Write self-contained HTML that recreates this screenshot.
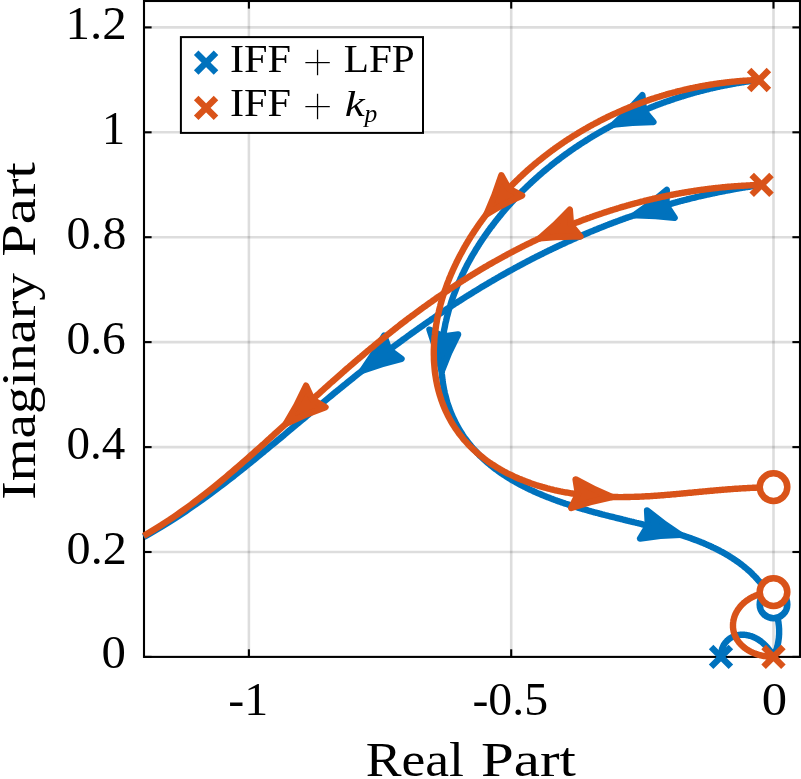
<!DOCTYPE html><html><head><meta charset="utf-8"><title>Root Locus</title><style>html,body{margin:0;padding:0;background:#fff}</style></head><body><svg width="801" height="779" viewBox="0 0 801 779" style="display:block" font-family="'Liberation Serif', serif" fill="#000">
<rect width="801" height="779" fill="#fff"/>
<defs><clipPath id="ax"><rect x="140.0" y="1.0" width="660.0" height="659.9"/></clipPath></defs>
<g stroke="#000" stroke-opacity="0.135" stroke-width="2.6"><line x1="248.9" y1="1.0" x2="248.9" y2="656.9"/><line x1="511.2" y1="1.0" x2="511.2" y2="656.9"/><line x1="773.5" y1="1.0" x2="773.5" y2="656.9"/><line x1="144.0" y1="552.0" x2="800.0" y2="552.0"/><line x1="144.0" y1="447.1" x2="800.0" y2="447.1"/><line x1="144.0" y1="342.1" x2="800.0" y2="342.1"/><line x1="144.0" y1="237.2" x2="800.0" y2="237.2"/><line x1="144.0" y1="132.3" x2="800.0" y2="132.3"/><line x1="144.0" y1="27.4" x2="800.0" y2="27.4"/></g>
<g stroke="#000" stroke-width="2.1"><line x1="248.9" y1="656.9" x2="248.9" y2="649.3"/><line x1="248.9" y1="1.0" x2="248.9" y2="8.6"/><line x1="511.2" y1="656.9" x2="511.2" y2="649.3"/><line x1="511.2" y1="1.0" x2="511.2" y2="8.6"/><line x1="773.5" y1="656.9" x2="773.5" y2="649.3"/><line x1="773.5" y1="1.0" x2="773.5" y2="8.6"/><line x1="144.0" y1="656.9" x2="151.6" y2="656.9"/><line x1="800.0" y1="656.9" x2="792.4" y2="656.9"/><line x1="144.0" y1="552.0" x2="151.6" y2="552.0"/><line x1="800.0" y1="552.0" x2="792.4" y2="552.0"/><line x1="144.0" y1="447.1" x2="151.6" y2="447.1"/><line x1="800.0" y1="447.1" x2="792.4" y2="447.1"/><line x1="144.0" y1="342.1" x2="151.6" y2="342.1"/><line x1="800.0" y1="342.1" x2="792.4" y2="342.1"/><line x1="144.0" y1="237.2" x2="151.6" y2="237.2"/><line x1="800.0" y1="237.2" x2="792.4" y2="237.2"/><line x1="144.0" y1="132.3" x2="151.6" y2="132.3"/><line x1="800.0" y1="132.3" x2="792.4" y2="132.3"/><line x1="144.0" y1="27.4" x2="151.6" y2="27.4"/><line x1="800.0" y1="27.4" x2="792.4" y2="27.4"/></g>
<rect x="144.0" y="1.0" width="656.0" height="655.9" fill="none" stroke="#000" stroke-width="2.1"/>
<g clip-path="url(#ax)"><path d="M759.0 80.0 L758.3 80.1 L757.6 80.2 L756.9 80.3 L756.2 80.3 L755.5 80.4 L754.8 80.5 L754.1 80.6 L753.4 80.7 L752.7 80.8 L752.0 80.9 L751.3 81.0 L750.6 81.1 L749.9 81.2 L749.2 81.3 L748.5 81.4 L747.7 81.5 L747.0 81.6 L746.3 81.7 L745.5 81.8 L744.8 81.9 L744.1 82.0 L743.4 82.1 L742.7 82.3 L741.9 82.4 L741.2 82.5 L740.5 82.6 L739.7 82.7 L739.0 82.9 L738.3 83.0 L737.6 83.1 L736.9 83.2 L736.1 83.3 L735.4 83.5 L734.7 83.6 L733.9 83.7 L733.2 83.9 L732.4 84.0 L731.7 84.1 L731.0 84.3 L730.2 84.4 L729.5 84.6 L728.7 84.7 L728.0 84.8 L727.3 85.0 L726.5 85.1 L725.8 85.3 L725.0 85.4 L724.2 85.6 L723.5 85.7 L722.8 85.9 L722.1 86.0 L721.3 86.2 L720.6 86.3 L719.8 86.5 L719.1 86.7 L718.3 86.8 L717.4 87.0 L716.8 87.2 L716.1 87.3 L715.4 87.5 L714.6 87.6 L713.9 87.8 L713.2 88.0 L712.4 88.2 L711.6 88.3 L710.8 88.5 L710.0 88.7 L709.2 88.9 L708.4 89.1 L707.6 89.3 L706.7 89.5 L706.0 89.7 L705.3 89.9 L704.6 90.0 L703.9 90.2 L703.2 90.4 L702.5 90.6 L701.7 90.8 L701.0 91.0 L700.2 91.2 L699.4 91.4 L698.6 91.6 L697.8 91.8 L697.0 92.0 L696.2 92.2 L695.4 92.5 L694.5 92.7 L693.7 92.9 L692.8 93.2 L692.0 93.4 L691.1 93.7 L690.2 93.9 L689.5 94.1 L688.8 94.3 L688.1 94.5 L687.4 94.7 L686.7 95.0 L686.0 95.2 L685.3 95.4 L684.6 95.6 L683.8 95.8 L683.1 96.1 L682.4 96.3 L681.6 96.5 L680.8 96.8 L680.1 97.0 L679.3 97.3 L678.5 97.5 L677.7 97.8 L676.9 98.0 L676.1 98.3 L675.3 98.5 L674.5 98.8 L673.7 99.1 L672.8 99.4 L672.0 99.7 L671.1 100.0 L670.3 100.3 L669.4 100.6 L668.5 100.9 L667.6 101.2 L666.7 101.5 L665.8 101.8 L664.9 102.1 L664.0 102.5 L663.0 102.8 L662.1 103.2 L661.2 103.5 L660.2 103.9 L659.2 104.2 L658.2 104.6 L657.6 104.8 L656.9 105.1 L656.3 105.3 L655.6 105.6 L654.9 105.9 L654.2 106.1 L653.6 106.4 L652.9 106.7 L652.2 106.9 L651.5 107.2 L650.8 107.5 L650.1 107.8 L649.4 108.1 L648.7 108.4 L647.9 108.7 L647.2 108.9 L646.5 109.2 L645.8 109.6 L645.0 109.9 L644.3 110.2 L643.5 110.5 L642.8 110.8 L642.0 111.1 L641.3 111.5 L640.5 111.8 L639.8 112.1 L639.0 112.5 L638.2 112.8 L637.4 113.1 L636.6 113.5 L635.8 113.8 L635.0 114.2 L634.2 114.6 L633.4 114.9 L632.6 115.3 L631.8 115.7 L631.0 116.1 L630.1 116.4 L629.3 116.8 L628.5 117.2 L627.6 117.6 L626.8 118.0 L625.9 118.4 L625.1 118.9 L624.2 119.3 L623.3 119.7 L622.5 120.1 L621.6 120.6 L620.7 121.0 L619.8 121.4 L618.9 121.9 L618.0 122.4 L617.1 122.8 L616.2 123.3 L615.3 123.8 L614.3 124.2 L613.4 124.7 L612.5 125.2 L611.5 125.7 L610.6 126.2 L609.6 126.7 L608.7 127.2 L607.7 127.8 L606.7 128.3 L605.8 128.8 L604.8 129.4 L603.8 129.9 L602.8 130.5 L601.8 131.1 L600.8 131.6 L599.8 132.2 L598.8 132.8 L597.7 133.4 L596.7 134.0 L595.7 134.6 L594.6 135.2 L593.6 135.8 L592.5 136.5 L591.5 137.1 L590.4 137.8 L589.3 138.4 L588.3 139.1 L587.2 139.8 L586.1 140.5 L585.0 141.2 L583.9 141.9 L582.8 142.6 L581.7 143.3 L580.5 144.0 L579.4 144.8 L578.3 145.5 L577.1 146.3 L576.0 147.1 L574.8 147.8 L574.2 148.2 L573.7 148.6 L573.1 149.0 L572.5 149.4 L571.9 149.8 L571.3 150.2 L570.7 150.7 L570.1 151.1 L569.6 151.5 L569.0 151.9 L568.4 152.3 L567.8 152.8 L567.2 153.2 L566.6 153.6 L566.0 154.0 L565.4 154.5 L564.8 154.9 L564.2 155.4 L563.5 155.8 L562.9 156.3 L562.3 156.7 L561.7 157.2 L561.1 157.6 L560.5 158.1 L559.9 158.6 L559.2 159.0 L558.6 159.5 L558.0 160.0 L557.4 160.5 L556.7 160.9 L556.1 161.4 L555.5 161.9 L554.9 162.4 L554.2 162.9 L553.6 163.4 L553.0 163.9 L552.3 164.4 L551.7 164.9 L551.0 165.4 L550.4 165.9 L549.8 166.5 L549.1 167.0 L548.5 167.5 L547.8 168.0 L547.2 168.6 L546.5 169.1 L545.9 169.7 L545.2 170.2 L544.6 170.7 L543.9 171.3 L543.2 171.9 L542.6 172.4 L541.9 173.0 L541.3 173.6 L540.6 174.1 L539.9 174.7 L539.3 175.3 L538.6 175.9 L537.9 176.5 L537.3 177.1 L536.6 177.7 L535.9 178.3 L535.2 178.9 L534.6 179.5 L533.9 180.1 L533.2 180.7 L532.5 181.4 L531.8 182.0 L531.1 182.6 L530.5 183.3 L529.8 183.9 L529.1 184.6 L528.4 185.2 L527.7 185.9 L527.0 186.5 L526.3 187.2 L525.6 187.9 L524.9 188.6 L524.2 189.2 L523.5 189.9 L522.8 190.6 L522.1 191.3 L521.4 192.0 L520.7 192.8 L520.0 193.5 L519.3 194.2 L518.6 194.9 L517.9 195.7 L517.2 196.4 L516.5 197.1 L515.7 197.9 L515.0 198.6 L514.3 199.4 L513.6 200.2 L512.9 200.9 L512.2 201.7 L511.4 202.5 L510.7 203.3 L510.0 204.1 L509.3 204.9 L508.6 205.7 L507.8 206.5 L507.1 207.4 L506.4 208.2 L505.7 209.0 L504.9 209.9 L504.2 210.7 L503.5 211.6 L502.7 212.4 L502.0 213.3 L501.3 214.2 L500.6 215.1 L499.8 216.0 L499.1 216.9 L498.4 217.8 L497.6 218.7 L496.9 219.6 L496.2 220.5 L495.4 221.5 L494.7 222.4 L494.0 223.4 L493.2 224.3 L492.5 225.3 L491.8 226.3 L491.0 227.2 L490.3 228.2 L489.6 229.2 L488.8 230.2 L488.1 231.2 L487.4 232.3 L486.6 233.3 L485.9 234.3 L485.2 235.4 L484.4 236.5 L483.7 237.5 L483.0 238.6 L482.2 239.7 L481.5 240.8 L480.8 241.9 L480.0 243.0 L479.3 244.1 L478.6 245.3 L477.9 246.4 L477.2 247.6 L476.4 248.7 L475.7 249.9 L475.0 251.1 L474.3 252.3 L473.6 253.5 L472.8 254.7 L472.1 255.9 L471.4 257.2 L470.7 258.4 L470.0 259.7 L469.3 261.0 L468.6 262.2 L467.9 263.5 L467.2 264.8 L466.5 266.2 L465.9 267.5 L465.2 268.8 L464.5 270.2 L463.8 271.6 L463.2 272.9 L462.5 274.3 L461.8 275.7 L461.2 277.1 L460.5 278.6 L459.9 280.0 L459.2 281.5 L458.6 282.9 L457.9 284.4 L457.3 285.9 L456.7 287.4 L456.1 289.0 L455.5 290.5 L454.9 292.1 L454.3 293.6 L453.7 295.2 L453.1 296.8 L452.6 298.4 L452.0 300.1 L451.4 301.7 L450.9 303.4 L450.4 305.0 L449.8 306.7 L449.3 308.4 L448.8 310.1 L448.3 311.9 L447.9 313.6 L447.4 315.4 L446.9 317.2 L446.5 319.0 L446.1 320.8 L445.6 322.6 L445.2 324.5 L444.9 326.4 L444.5 328.2 L444.1 330.1 L443.8 332.0 L443.5 334.0 L443.2 335.9 L442.9 337.9 L442.7 339.9 L442.4 341.9 L442.2 343.9 L442.0 345.9 L441.8 348.0 L441.7 350.0 L441.6 352.1 L441.5 354.2 L441.4 356.3 L441.3 358.4 L441.3 360.5 L441.3 362.7 L441.4 364.8 L441.4 367.0 L441.5 369.2 L441.7 371.3 L441.8 373.5 L442.0 375.7 L442.3 377.9 L442.5 380.2 L442.8 382.4 L443.2 384.6 L443.6 386.8 L444.0 389.1 L444.4 391.3 L444.9 393.5 L445.5 395.7 L446.1 397.9 L446.7 400.2 L447.3 402.4 L448.0 404.6 L448.8 406.7 L449.5 408.9 L450.3 411.1 L451.2 413.2 L452.1 415.3 L453.0 417.4 L454.0 419.5 L455.0 421.5 L456.0 423.6 L457.1 425.6 L458.2 427.6 L459.3 429.5 L460.5 431.4 L461.7 433.3 L462.9 435.2 L464.1 437.0 L465.4 438.8 L466.7 440.5 L468.0 442.2 L469.3 443.9 L470.7 445.6 L472.0 447.2 L473.4 448.8 L474.8 450.3 L476.2 451.8 L477.6 453.3 L479.0 454.7 L480.4 456.2 L481.8 457.5 L483.3 458.9 L484.7 460.2 L486.1 461.5 L487.6 462.7 L489.0 463.9 L490.4 465.1 L491.9 466.2 L493.3 467.4 L494.7 468.5 L496.2 469.5 L497.6 470.6 L499.0 471.6 L500.4 472.6 L501.8 473.6 L503.2 474.5 L504.6 475.4 L506.0 476.3 L507.3 477.2 L508.7 478.0 L510.1 478.9 L511.4 479.7 L512.7 480.5 L514.1 481.3 L515.4 482.0 L516.7 482.8 L518.0 483.5 L519.3 484.2 L520.6 484.9 L521.9 485.5 L523.2 486.2 L524.4 486.8 L525.7 487.5 L526.9 488.1 L528.1 488.7 L529.4 489.3 L530.6 489.9 L531.8 490.4 L533.0 491.0 L534.1 491.5 L535.3 492.0 L536.5 492.6 L537.6 493.1 L538.8 493.6 L539.9 494.0 L541.1 494.5 L542.2 495.0 L543.3 495.4 L544.4 495.9 L545.5 496.3 L546.6 496.8 L547.6 497.2 L548.7 497.6 L549.8 498.0 L550.8 498.4 L551.9 498.8 L552.9 499.2 L553.9 499.6 L554.9 500.0 L555.9 500.3 L556.9 500.7 L557.9 501.1 L558.9 501.4 L559.9 501.7 L560.9 502.1 L561.8 502.4 L562.8 502.7 L563.8 503.1 L564.7 503.4 L565.6 503.7 L566.6 504.0 L567.5 504.3 L568.4 504.6 L569.3 504.9 L570.2 505.2 L571.1 505.5 L572.0 505.7 L572.9 506.0 L573.7 506.3 L574.6 506.6 L575.5 506.8 L576.3 507.1 L577.2 507.3 L578.0 507.6 L578.8 507.9 L579.7 508.1 L580.5 508.3 L581.3 508.6 L582.1 508.8 L582.9 509.1 L583.7 509.3 L584.5 509.5 L585.3 509.7 L586.1 510.0 L586.9 510.2 L587.7 510.4 L588.4 510.6 L589.2 510.8 L590.0 511.0 L590.7 511.3 L591.5 511.5 L592.2 511.7 L592.9 511.9 L593.7 512.1 L594.4 512.3 L595.1 512.5 L595.8 512.7 L596.6 512.8 L597.3 513.0 L598.0 513.2 L598.7 513.4 L599.4 513.6 L600.1 513.8 L600.7 513.9 L601.4 514.1 L602.1 514.3 L603.4 514.6 L604.8 515.0 L606.1 515.3 L607.4 515.7 L608.7 516.0 L609.9 516.3 L611.2 516.6 L612.4 516.9 L613.6 517.2 L614.8 517.5 L616.0 517.8 L617.2 518.1 L618.3 518.4 L619.5 518.7 L620.6 519.0 L621.7 519.2 L622.8 519.5 L623.9 519.8 L625.0 520.0 L626.1 520.3 L627.2 520.6 L628.2 520.8 L629.2 521.1 L630.3 521.3 L631.3 521.6 L632.3 521.8 L633.3 522.0 L634.3 522.3 L635.2 522.5 L636.2 522.8 L637.1 523.0 L638.1 523.2 L639.0 523.5 L639.9 523.7 L640.9 523.9 L641.8 524.1 L642.7 524.4 L643.5 524.6 L644.4 524.8 L645.3 525.0 L646.2 525.2 L647.0 525.4 L647.8 525.7 L648.7 525.9 L649.5 526.1 L650.3 526.3 L651.1 526.5 L651.9 526.7 L652.7 526.9 L653.5 527.1 L654.3 527.3 L655.1 527.5 L655.9 527.7 L656.6 527.9 L657.4 528.1 L658.1 528.3 L658.9 528.5 L659.6 528.7 L660.3 528.9 L661.0 529.1 L661.8 529.3 L662.5 529.5 L663.2 529.7 L663.9 529.9 L664.6 530.1 L665.2 530.3 L665.9 530.5 L666.9 530.7 L667.9 531.0 L668.9 531.3 L669.9 531.6 L670.8 531.9 L671.8 532.1 L672.7 532.4 L673.6 532.7 L674.5 533.0 L675.4 533.2 L676.3 533.5 L677.2 533.8 L678.1 534.1 L678.9 534.3 L679.8 534.6 L680.6 534.9 L681.4 535.1 L682.3 535.4 L683.1 535.6 L683.9 535.9 L684.7 536.2 L685.4 536.4 L686.2 536.7 L687.0 537.0 L687.7 537.2 L688.5 537.5 L689.2 537.7 L690.0 538.0 L690.7 538.2 L691.4 538.5 L692.1 538.8 L692.8 539.0 L693.5 539.3 L694.2 539.5 L694.8 539.8 L695.5 540.0 L696.2 540.3 L696.8 540.5 L697.7 540.8 L698.5 541.2 L699.4 541.5 L700.2 541.8 L701.0 542.2 L701.8 542.5 L702.6 542.8 L703.4 543.1 L704.2 543.5 L704.9 543.8 L705.7 544.1 L706.4 544.4 L707.2 544.7 L707.9 545.1 L708.6 545.4 L709.3 545.7 L710.0 546.0 L710.7 546.3 L711.4 546.6 L712.0 547.0 L712.7 547.3 L713.3 547.6 L714.0 547.9 L714.6 548.2 L715.4 548.6 L716.2 549.0 L716.9 549.3 L717.7 549.7 L718.4 550.1 L719.1 550.5 L719.8 550.8 L720.5 551.2 L721.2 551.6 L721.9 551.9 L722.6 552.3 L723.2 552.7 L723.9 553.0 L724.5 553.4 L725.1 553.7 L725.8 554.1 L726.4 554.5 L727.1 554.9 L727.8 555.3 L728.5 555.7 L729.2 556.1 L729.9 556.6 L730.5 557.0 L731.2 557.4 L731.8 557.8 L732.4 558.2 L733.0 558.6 L733.6 559.0 L734.2 559.4 L734.8 559.8 L735.5 560.2 L736.1 560.7 L736.8 561.1 L737.4 561.6 L738.0 562.0 L738.6 562.4 L739.2 562.9 L739.8 563.3 L740.4 563.7 L740.9 564.2 L741.6 564.6 L742.2 565.1 L742.8 565.6 L743.4 566.1 L743.9 566.5 L744.5 567.0 L745.0 567.4 L745.6 567.9 L746.2 568.4 L746.8 568.9 L747.4 569.4 L747.9 569.9 L748.4 570.3 L749.0 570.8 L749.5 571.3 L750.1 571.8 L750.6 572.3 L751.1 572.8 L751.6 573.3 L752.2 573.8 L752.7 574.4 L753.2 574.9 L753.7 575.4 L754.3 575.9 L754.8 576.5 L755.3 577.0 L755.7 577.5 L756.3 578.0 L756.7 578.6 L757.2 579.1 L757.7 579.7 L758.2 580.2 L758.6 580.7 L759.1 581.3 L759.6 581.8 L760.1 582.4 L760.5 583.0 L761.0 583.5 L761.4 584.1 L761.9 584.7 L762.3 585.2 L762.7 585.8 L763.2 586.4 L763.6 587.0 L764.0 587.6 L764.4 588.2 L764.8 588.8 L765.2 589.4 L765.6 590.0 L766.0 590.6 L766.4 591.2 L766.8 591.7 L767.2 592.3 L767.6 592.9 L767.9 593.5 L768.3 594.2 L768.6 594.8 L769.0 595.4 L769.3 596.0 L769.7 596.6 L770.0 597.3 L770.4 597.9 L770.7 598.5 L771.0 599.1 L771.3 599.8 L771.6 600.4 L771.9 601.0 L772.2 601.7 L772.5 602.3 L772.8 602.9 L773.1 603.6 L773.5 604.4" fill="none" stroke="#0072BD" stroke-width="6.4" stroke-linejoin="round"/><path d="M721.0 656.9 L721.0 657.1" fill="none" stroke="#0072BD" stroke-width="6.4" stroke-linejoin="round"/><path d="M773.3 657.1 L773.4 657.0 L773.7 656.3 L774.1 655.6 L774.4 655.0 L774.7 654.3 L774.9 653.6 L775.2 652.9 L775.5 652.3 L775.7 651.6 L776.0 650.9 L776.2 650.2 L776.4 649.5 L776.7 648.8 L776.9 648.1 L777.1 647.4 L777.2 646.7 L777.4 646.0 L777.6 645.3 L777.8 644.6 L777.9 643.9 L778.0 643.2 L778.2 642.4 L778.3 641.7 L778.4 641.0 L778.5 640.3 L778.6 639.6 L778.7 638.8 L778.8 638.1 L778.9 637.4 L778.9 636.7 L779.0 636.0 L779.0 635.2 L779.1 634.5 L779.1 633.8 L779.1 633.1 L779.1 632.4 L779.1 631.6 L779.1 630.9 L779.1 630.2 L779.1 629.5 L779.1 628.8 L779.0 628.1 L779.0 627.4 L778.9 626.6 L778.9 625.9 L778.8 625.2 L778.7 624.5 L778.6 623.8 L778.5 623.1 L778.5 622.4 L778.3 621.7 L778.2 621.0 L778.1 620.3 L778.0 619.6 L777.9 618.9 L777.7 618.2 L777.6 617.5 L777.4 616.8 L777.3 616.1 L777.1 615.4 L776.9 614.7 L776.7 614.0 L776.5 613.3 L776.4 612.7 L776.2 612.0 L775.9 611.3 L775.7 610.6 L775.5 610.0 L775.3 609.3 L775.1 608.6 L774.8 608.0 L774.6 607.3 L774.3 606.7 L774.1 606.0 L773.8 605.4 L773.5 604.4" fill="none" stroke="#0072BD" stroke-width="6.4" stroke-linejoin="round"/><path d="M761.6 184.9 L761.0 185.0 L760.3 185.1 L759.6 185.2 L758.9 185.3 L758.2 185.4 L757.5 185.5 L756.8 185.6 L756.0 185.7 L755.3 185.8 L754.6 185.9 L753.9 186.0 L753.2 186.1 L752.5 186.2 L751.8 186.3 L751.1 186.4 L750.4 186.5 L749.7 186.6 L748.9 186.8 L748.2 186.9 L747.5 187.0 L746.7 187.1 L746.0 187.2 L745.3 187.3 L744.6 187.4 L743.8 187.6 L743.1 187.7 L742.4 187.8 L741.7 187.9 L740.9 188.0 L740.2 188.2 L739.5 188.3 L738.8 188.4 L738.0 188.5 L737.3 188.7 L736.6 188.8 L735.8 188.9 L735.1 189.0 L734.4 189.2 L733.7 189.3 L732.9 189.4 L732.2 189.6 L731.4 189.7 L730.7 189.9 L730.0 190.0 L729.2 190.1 L728.5 190.3 L727.7 190.4 L726.9 190.6 L726.2 190.7 L725.5 190.8 L724.8 191.0 L724.0 191.1 L723.3 191.3 L722.5 191.4 L721.7 191.6 L720.9 191.7 L720.1 191.9 L719.4 192.0 L718.7 192.2 L718.0 192.3 L717.3 192.5 L716.6 192.6 L715.8 192.8 L715.0 192.9 L714.3 193.1 L713.5 193.3 L712.7 193.4 L711.9 193.6 L711.0 193.8 L710.2 194.0 L709.5 194.1 L708.8 194.3 L708.1 194.4 L707.4 194.6 L706.7 194.7 L705.9 194.9 L705.2 195.1 L704.4 195.2 L703.7 195.4 L702.9 195.6 L702.1 195.8 L701.3 196.0 L700.5 196.1 L699.7 196.3 L698.9 196.5 L698.1 196.7 L697.2 196.9 L696.3 197.1 L695.5 197.3 L694.6 197.6 L693.7 197.8 L692.8 198.0 L692.1 198.2 L691.4 198.3 L690.7 198.5 L690.0 198.7 L689.3 198.9 L688.6 199.1 L687.8 199.2 L687.1 199.4 L686.4 199.6 L685.6 199.8 L684.8 200.0 L684.1 200.2 L683.3 200.4 L682.5 200.6 L681.7 200.8 L680.9 201.0 L680.1 201.2 L679.3 201.5 L678.5 201.7 L677.7 201.9 L676.8 202.1 L676.0 202.4 L675.1 202.6 L674.2 202.8 L673.4 203.1 L672.5 203.3 L671.6 203.6 L670.7 203.8 L669.8 204.1 L668.9 204.3 L667.9 204.6 L667.0 204.9 L666.0 205.2 L665.1 205.4 L664.1 205.7 L663.1 206.0 L662.2 206.3 L661.2 206.6 L660.1 206.9 L659.5 207.1 L658.8 207.3 L658.1 207.5 L657.4 207.7 L656.7 207.9 L656.0 208.1 L655.3 208.4 L654.6 208.6 L653.9 208.8 L653.2 209.0 L652.4 209.3 L651.7 209.5 L651.0 209.7 L650.2 209.9 L649.5 210.2 L648.7 210.4 L648.0 210.7 L647.2 210.9 L646.5 211.1 L645.7 211.4 L644.9 211.6 L644.1 211.9 L643.3 212.2 L642.6 212.4 L641.8 212.7 L641.0 212.9 L640.1 213.2 L639.3 213.5 L638.5 213.8 L637.7 214.0 L636.9 214.3 L636.0 214.6 L635.2 214.9 L634.3 215.2 L633.5 215.5 L632.6 215.8 L631.8 216.1 L630.9 216.4 L630.0 216.7 L629.1 217.0 L628.2 217.3 L627.3 217.6 L626.4 217.9 L625.5 218.2 L624.6 218.6 L623.7 218.9 L622.8 219.2 L621.8 219.6 L620.9 219.9 L620.0 220.3 L619.0 220.6 L618.0 221.0 L617.1 221.3 L616.1 221.7 L615.1 222.1 L614.1 222.4 L613.1 222.8 L612.1 223.2 L611.1 223.6 L610.1 223.9 L609.1 224.3 L608.1 224.7 L607.0 225.1 L606.0 225.5 L604.9 225.9 L603.9 226.4 L602.8 226.8 L601.8 227.2 L600.7 227.6 L599.6 228.1 L598.5 228.5 L597.4 229.0 L596.3 229.4 L595.2 229.9 L594.0 230.3 L592.9 230.8 L591.8 231.3 L590.6 231.7 L589.5 232.2 L588.3 232.7 L587.1 233.2 L585.9 233.7 L584.7 234.2 L583.5 234.7 L582.3 235.2 L581.1 235.8 L579.9 236.3 L578.7 236.8 L577.4 237.4 L576.2 237.9 L574.9 238.5 L573.6 239.0 L572.4 239.6 L571.7 239.9 L571.1 240.2 L570.4 240.5 L569.8 240.8 L569.1 241.1 L568.5 241.3 L567.8 241.6 L567.1 241.9 L566.5 242.2 L565.8 242.5 L565.2 242.9 L564.5 243.2 L563.8 243.5 L563.1 243.8 L562.5 244.1 L561.8 244.4 L561.1 244.7 L560.4 245.0 L559.7 245.4 L559.0 245.7 L558.4 246.0 L557.7 246.3 L557.0 246.7 L556.3 247.0 L555.6 247.3 L554.9 247.7 L554.2 248.0 L553.5 248.3 L552.7 248.7 L552.0 249.0 L551.3 249.4 L550.6 249.7 L549.9 250.1 L549.1 250.4 L548.4 250.8 L547.7 251.1 L547.0 251.5 L546.2 251.8 L545.5 252.2 L544.7 252.6 L544.0 252.9 L543.3 253.3 L542.5 253.7 L541.8 254.1 L541.0 254.4 L540.2 254.8 L539.5 255.2 L538.7 255.6 L538.0 256.0 L537.2 256.3 L536.4 256.7 L535.6 257.1 L534.9 257.5 L534.1 257.9 L533.3 258.3 L532.5 258.7 L531.7 259.1 L530.9 259.5 L530.1 260.0 L529.3 260.4 L528.5 260.8 L527.7 261.2 L526.9 261.6 L526.1 262.1 L525.3 262.5 L524.5 262.9 L523.7 263.3 L522.9 263.8 L522.0 264.2 L521.2 264.7 L520.4 265.1 L519.5 265.5 L518.7 266.0 L517.9 266.5 L517.0 266.9 L516.2 267.4 L515.3 267.8 L514.5 268.3 L513.6 268.8 L512.8 269.2 L511.9 269.7 L511.0 270.2 L510.2 270.7 L509.3 271.1 L508.4 271.6 L507.5 272.1 L506.6 272.6 L505.8 273.1 L504.9 273.6 L504.0 274.1 L503.1 274.6 L502.2 275.1 L501.3 275.6 L500.4 276.2 L499.4 276.7 L498.5 277.2 L497.6 277.7 L496.7 278.3 L495.8 278.8 L494.8 279.3 L493.9 279.9 L493.0 280.4 L492.0 281.0 L491.1 281.5 L490.1 282.1 L489.2 282.6 L488.2 283.2 L487.3 283.8 L486.3 284.3 L485.3 284.9 L484.4 285.5 L483.4 286.1 L482.4 286.7 L481.4 287.2 L480.4 287.8 L479.5 288.4 L478.5 289.0 L477.5 289.7 L476.5 290.3 L475.4 290.9 L474.4 291.5 L473.4 292.1 L472.4 292.8 L471.4 293.4 L470.4 294.0 L469.3 294.7 L468.3 295.3 L467.2 296.0 L466.2 296.6 L465.1 297.3 L464.1 297.9 L463.0 298.6 L462.0 299.3 L460.9 300.0 L459.8 300.7 L458.8 301.3 L457.7 302.0 L456.6 302.7 L455.5 303.4 L454.4 304.1 L453.3 304.9 L452.2 305.6 L451.1 306.3 L450.0 307.0 L448.9 307.8 L447.7 308.5 L446.6 309.2 L445.5 310.0 L444.3 310.8 L443.2 311.5 L442.1 312.3 L440.9 313.1 L439.7 313.8 L438.6 314.6 L437.4 315.4 L436.2 316.2 L435.1 317.0 L433.9 317.8 L432.7 318.6 L431.5 319.4 L430.3 320.3 L429.1 321.1 L427.9 321.9 L426.6 322.8 L425.4 323.6 L424.2 324.5 L423.0 325.4 L421.7 326.2 L420.5 327.1 L419.2 328.0 L418.0 328.9 L416.7 329.8 L415.4 330.7 L414.2 331.6 L412.9 332.5 L411.6 333.4 L410.3 334.4 L409.0 335.3 L407.7 336.2 L406.4 337.2 L405.1 338.2 L403.7 339.1 L402.4 340.1 L401.1 341.1 L399.7 342.1 L398.4 343.1 L397.0 344.1 L395.6 345.1 L394.2 346.1 L392.9 347.2 L391.5 348.2 L390.1 349.2 L388.7 350.3 L387.3 351.4 L385.9 352.4 L384.4 353.5 L383.0 354.6 L381.5 355.7 L380.1 356.8 L378.6 357.9 L377.2 359.1 L375.7 360.2 L374.2 361.3 L372.7 362.5 L371.2 363.7 L369.7 364.8 L368.2 366.0 L366.7 367.2 L365.2 368.4 L363.6 369.6 L362.1 370.8 L360.5 372.1 L358.9 373.3 L357.3 374.6 L355.8 375.8 L354.2 377.1 L352.6 378.4 L350.9 379.7 L349.3 381.0 L347.7 382.3 L346.0 383.7 L344.3 385.0 L342.7 386.4 L341.0 387.7 L339.3 389.1 L337.6 390.5 L335.9 391.9 L334.1 393.3 L332.4 394.7 L330.6 396.2 L328.9 397.6 L327.1 399.1 L325.3 400.6 L323.5 402.1 L321.7 403.6 L319.9 405.1 L318.0 406.6 L316.1 408.2 L314.3 409.7 L312.4 411.3 L310.5 412.9 L308.6 414.5 L306.6 416.1 L304.7 417.8 L302.7 419.4 L300.7 421.1 L298.7 422.7 L296.7 424.4 L294.7 426.1 L292.6 427.8 L290.5 429.6 L288.4 431.3 L286.3 433.1 L284.2 434.9 L282.0 436.7 L279.9 438.5 L277.7 440.3 L275.4 442.2 L273.2 444.0 L270.9 445.9 L268.6 447.8 L266.3 449.7 L264.0 451.7 L261.6 453.6 L259.2 455.6 L256.8 457.5 L254.4 459.5 L251.9 461.5 L249.4 463.6 L246.9 465.6 L244.3 467.7 L241.7 469.7 L239.1 471.8 L236.4 473.9 L233.8 476.1 L231.0 478.2 L228.3 480.3 L225.5 482.5 L222.6 484.7 L219.8 486.8 L216.9 489.0 L213.9 491.2 L210.9 493.5 L207.9 495.7 L204.8 497.9 L201.7 500.2 L198.5 502.4 L195.3 504.7 L192.0 506.9 L188.7 509.2 L185.4 511.5 L182.0 513.7 L178.5 516.0 L175.0 518.3 L171.5 520.5 L167.9 522.8 L164.3 525.0 L160.6 527.3 L156.8 529.5 L153.0 531.7 L149.2 533.9 L145.3 536.1 L143.7 537.0" fill="none" stroke="#0072BD" stroke-width="6.4" stroke-linejoin="round"/><path d="M721.0 656.9 L721.0 656.2 L721.0 655.5 L721.0 654.8 L721.1 654.1 L721.2 653.4 L721.2 652.7 L721.4 652.0 L721.5 651.3 L721.6 650.6 L721.8 649.9 L722.0 649.2 L722.2 648.5 L722.5 647.9 L722.8 647.2 L723.0 646.6 L723.4 645.9 L723.7 645.3 L724.0 644.6 L724.4 644.0 L724.8 643.5 L725.2 642.9 L725.7 642.3 L726.2 641.7 L726.7 641.2 L727.2 640.6 L727.7 640.2 L728.2 639.7 L728.8 639.2 L729.4 638.8 L730.0 638.3 L730.6 637.9 L731.3 637.6 L731.9 637.2 L732.6 636.9 L733.2 636.6 L733.9 636.3 L734.6 636.0 L735.3 635.8 L736.1 635.6 L736.8 635.4 L737.6 635.2 L738.4 635.0 L739.1 634.9 L739.8 634.8 L740.5 634.8 L741.2 634.7 L741.9 634.7 L742.6 634.7 L743.3 634.7 L744.1 634.8 L744.8 634.8 L745.5 634.9 L746.2 635.0 L747.0 635.1 L747.7 635.3 L748.4 635.4 L749.1 635.6 L749.8 635.8 L750.5 636.0 L751.2 636.2 L751.9 636.4 L752.6 636.7 L753.2 637.0 L753.9 637.3 L754.5 637.5 L755.2 637.9 L755.8 638.2 L756.4 638.5 L757.1 638.9 L757.7 639.2 L758.3 639.6 L759.0 640.1 L759.7 640.5 L760.3 641.0 L760.9 641.4 L761.5 641.9 L762.1 642.4 L762.7 642.9 L763.3 643.4 L763.8 643.9 L764.4 644.4 L764.9 644.9 L765.4 645.4 L765.9 646.0 L766.4 646.5 L766.9 647.0 L767.4 647.6 L767.8 648.1 L768.2 648.7 L768.7 649.3 L769.2 649.9 L769.6 650.5 L770.1 651.1 L770.5 651.8 L770.9 652.4 L771.3 653.0 L771.7 653.6 L772.0 654.3 L772.4 654.9 L772.7 655.5 L773.1 656.1 L773.4 656.8 L773.5 657.1" fill="none" stroke="#0072BD" stroke-width="6.4" stroke-linejoin="round"/><path d="M613.4 124.7 Q628.5 111.4 642.4 95.2 L643.9 110.5 L653.4 122.1 Q632.9 122.0 613.4 124.7 Z" fill="#0072BD" stroke="#0072BD" stroke-width="6.4" stroke-linejoin="round"/><path d="M634.3 215.2 Q651.0 204.0 666.8 189.9 L666.4 205.2 L674.6 217.8 Q654.1 215.0 634.3 215.2 Z" fill="#0072BD" stroke="#0072BD" stroke-width="6.4" stroke-linejoin="round"/><path d="M441.7 371.3 Q437.1 350.7 429.5 329.6 L443.6 336.5 L458.1 334.5 Q448.4 352.6 441.7 371.3 Z" fill="#0072BD" stroke="#0072BD" stroke-width="6.4" stroke-linejoin="round"/><path d="M362.1 370.8 Q374.0 354.4 384.2 335.5 L389.3 349.9 L401.5 358.8 Q380.9 363.6 362.1 370.8 Z" fill="#0072BD" stroke="#0072BD" stroke-width="6.4" stroke-linejoin="round"/><path d="M680.6 534.9 Q660.7 535.3 640.0 538.6 L647.9 525.8 L647.1 510.5 Q663.5 524.1 680.6 534.9 Z" fill="#0072BD" stroke="#0072BD" stroke-width="6.4" stroke-linejoin="round"/></g>
<circle cx="773.5" cy="604.4" r="13.8" fill="#fff" stroke="#0072BD" stroke-width="6.5"/><path d="M711.1 647.0 L730.9 666.8 M711.1 666.8 L730.9 647.0" stroke="#0072BD" stroke-width="6.4" fill="none"/>
<g clip-path="url(#ax)"><path d="M759.0 80.0 L758.3 80.0 L757.6 80.0 L756.9 80.1 L756.2 80.1 L755.5 80.1 L754.8 80.2 L754.1 80.2 L753.4 80.2 L752.7 80.2 L752.0 80.3 L751.3 80.3 L750.5 80.4 L749.8 80.4 L749.1 80.4 L748.4 80.5 L747.7 80.5 L746.9 80.6 L746.2 80.6 L745.4 80.7 L744.7 80.7 L744.0 80.8 L743.3 80.8 L742.5 80.9 L741.8 80.9 L741.1 81.0 L740.3 81.0 L739.6 81.1 L738.9 81.2 L738.1 81.2 L737.4 81.3 L736.7 81.3 L736.0 81.4 L735.2 81.5 L734.5 81.6 L733.7 81.6 L733.0 81.7 L732.2 81.8 L731.5 81.9 L730.8 81.9 L730.0 82.0 L729.2 82.1 L728.4 82.2 L727.7 82.3 L727.0 82.3 L726.3 82.4 L725.5 82.5 L724.7 82.6 L723.9 82.7 L723.2 82.8 L722.5 82.9 L721.8 83.0 L721.0 83.1 L720.3 83.2 L719.5 83.3 L718.7 83.4 L717.9 83.5 L717.1 83.6 L716.4 83.7 L715.7 83.8 L715.0 83.9 L714.2 84.0 L713.5 84.2 L712.8 84.3 L712.0 84.4 L711.2 84.5 L710.4 84.6 L709.6 84.8 L708.8 84.9 L708.0 85.1 L707.1 85.2 L706.3 85.3 L705.6 85.5 L704.9 85.6 L704.1 85.7 L703.4 85.8 L702.7 86.0 L701.9 86.1 L701.2 86.3 L700.4 86.4 L699.6 86.5 L698.9 86.7 L698.1 86.9 L697.3 87.0 L696.4 87.2 L695.6 87.3 L694.8 87.5 L693.9 87.7 L693.1 87.9 L692.2 88.1 L691.3 88.2 L690.4 88.4 L689.5 88.6 L688.8 88.8 L688.1 88.9 L687.4 89.1 L686.7 89.3 L686.0 89.4 L685.3 89.6 L684.6 89.8 L683.8 89.9 L683.1 90.1 L682.3 90.3 L681.6 90.5 L680.8 90.7 L680.1 90.8 L679.3 91.0 L678.5 91.2 L677.7 91.4 L676.9 91.6 L676.1 91.9 L675.3 92.1 L674.4 92.3 L673.6 92.5 L672.8 92.7 L671.9 93.0 L671.1 93.2 L670.2 93.4 L669.3 93.7 L668.4 93.9 L667.5 94.2 L666.6 94.4 L665.7 94.7 L664.8 95.0 L663.9 95.2 L662.9 95.5 L662.0 95.8 L661.0 96.1 L660.1 96.4 L659.1 96.7 L658.1 97.0 L657.1 97.3 L656.1 97.6 L655.5 97.8 L654.8 98.1 L654.1 98.3 L653.4 98.5 L652.7 98.7 L652.0 99.0 L651.3 99.2 L650.6 99.4 L649.9 99.7 L649.2 99.9 L648.5 100.2 L647.8 100.4 L647.0 100.7 L646.3 100.9 L645.6 101.2 L644.8 101.4 L644.1 101.7 L643.3 102.0 L642.6 102.2 L641.8 102.5 L641.1 102.8 L640.3 103.1 L639.5 103.4 L638.7 103.7 L638.0 104.0 L637.2 104.3 L636.4 104.6 L635.6 104.9 L634.8 105.2 L634.0 105.5 L633.2 105.8 L632.3 106.1 L631.5 106.5 L630.7 106.8 L629.8 107.1 L629.0 107.5 L628.2 107.8 L627.3 108.2 L626.5 108.5 L625.6 108.9 L624.7 109.3 L623.9 109.6 L623.0 110.0 L622.1 110.4 L621.2 110.8 L620.3 111.2 L619.4 111.6 L618.5 112.0 L617.6 112.4 L616.7 112.8 L615.8 113.2 L614.8 113.6 L613.9 114.0 L613.0 114.5 L612.0 114.9 L611.1 115.4 L610.1 115.8 L609.2 116.3 L608.2 116.7 L607.2 117.2 L606.2 117.7 L605.3 118.2 L604.3 118.7 L603.3 119.2 L602.3 119.7 L601.3 120.2 L600.2 120.7 L599.2 121.2 L598.2 121.8 L597.2 122.3 L596.1 122.9 L595.1 123.4 L594.0 124.0 L593.0 124.5 L591.9 125.1 L590.8 125.7 L589.7 126.3 L588.7 126.9 L587.6 127.5 L586.5 128.2 L585.4 128.8 L584.3 129.4 L583.1 130.1 L582.0 130.7 L580.9 131.4 L579.8 132.1 L578.6 132.8 L577.5 133.5 L576.3 134.2 L575.2 134.9 L574.0 135.6 L572.8 136.3 L571.6 137.1 L571.0 137.5 L570.4 137.9 L569.9 138.2 L569.3 138.6 L568.7 139.0 L568.1 139.4 L567.4 139.8 L566.8 140.2 L566.2 140.6 L565.6 141.0 L565.0 141.4 L564.4 141.8 L563.8 142.2 L563.2 142.6 L562.6 143.1 L561.9 143.5 L561.3 143.9 L560.7 144.3 L560.1 144.8 L559.5 145.2 L558.8 145.6 L558.2 146.1 L557.6 146.5 L556.9 147.0 L556.3 147.4 L555.7 147.9 L555.0 148.3 L554.4 148.8 L553.8 149.3 L553.1 149.7 L552.5 150.2 L551.8 150.7 L551.2 151.1 L550.5 151.6 L549.9 152.1 L549.2 152.6 L548.6 153.1 L547.9 153.6 L547.3 154.1 L546.6 154.6 L546.0 155.1 L545.3 155.6 L544.6 156.1 L544.0 156.6 L543.3 157.2 L542.6 157.7 L542.0 158.2 L541.3 158.8 L540.6 159.3 L539.9 159.8 L539.3 160.4 L538.6 160.9 L537.9 161.5 L537.2 162.0 L536.6 162.6 L535.9 163.2 L535.2 163.7 L534.5 164.3 L533.8 164.9 L533.1 165.5 L532.4 166.1 L531.7 166.7 L531.0 167.3 L530.3 167.9 L529.6 168.5 L528.9 169.1 L528.2 169.7 L527.5 170.3 L526.8 171.0 L526.1 171.6 L525.4 172.2 L524.7 172.9 L524.0 173.5 L523.3 174.2 L522.6 174.8 L521.9 175.5 L521.2 176.2 L520.4 176.8 L519.7 177.5 L519.0 178.2 L518.3 178.9 L517.6 179.6 L516.8 180.3 L516.1 181.0 L515.4 181.7 L514.7 182.4 L513.9 183.1 L513.2 183.9 L512.5 184.6 L511.7 185.4 L511.0 186.1 L510.3 186.9 L509.5 187.6 L508.8 188.4 L508.1 189.2 L507.3 189.9 L506.6 190.7 L505.8 191.5 L505.1 192.3 L504.3 193.1 L503.6 193.9 L502.9 194.7 L502.1 195.6 L501.4 196.4 L500.6 197.2 L499.9 198.1 L499.1 198.9 L498.4 199.8 L497.6 200.7 L496.9 201.5 L496.1 202.4 L495.4 203.3 L494.6 204.2 L493.8 205.1 L493.1 206.0 L492.3 206.9 L491.6 207.9 L490.8 208.8 L490.1 209.7 L489.3 210.7 L488.5 211.6 L487.8 212.6 L487.0 213.6 L486.3 214.6 L485.5 215.6 L484.7 216.6 L484.0 217.6 L483.2 218.6 L482.5 219.6 L481.7 220.7 L481.0 221.7 L480.2 222.8 L479.4 223.8 L478.7 224.9 L477.9 226.0 L477.2 227.1 L476.4 228.2 L475.7 229.3 L474.9 230.4 L474.1 231.6 L473.4 232.7 L472.6 233.9 L471.9 235.0 L471.1 236.2 L470.4 237.4 L469.6 238.6 L468.9 239.8 L468.2 241.0 L467.4 242.3 L466.7 243.5 L465.9 244.8 L465.2 246.0 L464.5 247.3 L463.7 248.6 L463.0 249.9 L462.3 251.2 L461.6 252.6 L460.8 253.9 L460.1 255.3 L459.4 256.6 L458.7 258.0 L458.0 259.4 L457.3 260.8 L456.6 262.2 L455.9 263.7 L455.2 265.1 L454.5 266.6 L453.8 268.1 L453.1 269.6 L452.5 271.1 L451.8 272.6 L451.1 274.1 L450.5 275.7 L449.8 277.3 L449.2 278.8 L448.6 280.4 L447.9 282.1 L447.3 283.7 L446.7 285.3 L446.1 287.0 L445.5 288.7 L444.9 290.4 L444.3 292.1 L443.7 293.8 L443.2 295.6 L442.6 297.4 L442.1 299.1 L441.6 300.9 L441.1 302.8 L440.5 304.6 L440.1 306.5 L439.6 308.4 L439.1 310.3 L438.7 312.2 L438.2 314.1 L437.8 316.1 L437.4 318.0 L437.0 320.0 L436.7 322.1 L436.3 324.1 L436.0 326.1 L435.7 328.2 L435.4 330.3 L435.1 332.4 L434.9 334.6 L434.6 336.7 L434.4 338.9 L434.3 341.1 L434.1 343.3 L434.0 345.5 L433.9 347.8 L433.8 350.0 L433.8 352.3 L433.8 354.6 L433.9 356.9 L433.9 359.3 L434.0 361.6 L434.2 364.0 L434.4 366.4 L434.6 368.8 L434.8 371.2 L435.1 373.6 L435.5 376.0 L435.9 378.5 L436.3 380.9 L436.8 383.3 L437.3 385.8 L437.9 388.3 L438.5 390.7 L439.2 393.2 L439.9 395.6 L440.7 398.0 L441.5 400.5 L442.4 402.9 L443.3 405.3 L444.3 407.7 L445.3 410.1 L446.4 412.4 L447.5 414.7 L448.7 417.0 L449.9 419.3 L451.2 421.6 L452.5 423.8 L453.8 425.9 L455.2 428.1 L456.7 430.2 L458.1 432.2 L459.6 434.3 L461.2 436.2 L462.7 438.2 L464.3 440.1 L466.0 441.9 L467.6 443.7 L469.3 445.5 L471.0 447.2 L472.7 448.8 L474.4 450.4 L476.1 452.0 L477.8 453.5 L479.6 455.0 L481.3 456.4 L483.1 457.8 L484.9 459.2 L486.6 460.5 L488.4 461.8 L490.1 463.0 L491.9 464.2 L493.7 465.3 L495.4 466.4 L497.1 467.5 L498.9 468.5 L500.6 469.6 L502.3 470.5 L504.0 471.5 L505.7 472.4 L507.4 473.3 L509.1 474.1 L510.8 474.9 L512.5 475.7 L514.1 476.5 L515.7 477.3 L517.4 478.0 L519.0 478.7 L520.6 479.3 L522.2 480.0 L523.8 480.6 L525.3 481.2 L526.9 481.8 L528.4 482.4 L529.9 482.9 L531.4 483.5 L532.9 484.0 L534.4 484.5 L535.9 485.0 L537.4 485.4 L538.8 485.9 L540.3 486.3 L541.7 486.7 L543.1 487.2 L544.5 487.5 L545.9 487.9 L547.2 488.3 L548.6 488.6 L550.0 489.0 L551.3 489.3 L552.6 489.6 L553.9 490.0 L555.2 490.3 L556.5 490.5 L557.8 490.8 L559.1 491.1 L560.3 491.4 L561.6 491.6 L562.8 491.9 L564.0 492.1 L565.2 492.3 L566.4 492.5 L567.6 492.7 L568.8 492.9 L570.0 493.1 L571.1 493.3 L572.3 493.5 L573.4 493.7 L574.6 493.9 L575.7 494.0 L576.8 494.2 L577.9 494.3 L579.0 494.5 L580.1 494.6 L581.1 494.7 L582.2 494.9 L583.2 495.0 L584.3 495.1 L585.3 495.2 L586.4 495.3 L587.4 495.4 L588.4 495.5 L589.4 495.6 L590.4 495.7 L591.4 495.8 L592.3 495.9 L593.3 496.0 L594.3 496.1 L595.2 496.1 L596.2 496.2 L597.1 496.3 L598.0 496.3 L598.9 496.4 L599.9 496.5 L600.8 496.5 L601.7 496.6 L602.6 496.6 L603.4 496.6 L604.3 496.7 L605.2 496.7 L606.0 496.8 L606.9 496.8 L607.8 496.8 L608.6 496.9 L609.4 496.9 L610.3 496.9 L611.1 496.9 L611.9 497.0 L612.7 497.0 L613.5 497.0 L614.3 497.0 L615.1 497.0 L615.9 497.0 L616.7 497.0 L617.4 497.0 L618.2 497.1 L619.0 497.1 L619.7 497.1 L620.5 497.1 L621.2 497.1 L622.0 497.1 L622.7 497.1 L623.4 497.1 L624.1 497.0 L624.9 497.0 L625.6 497.0 L626.3 497.0 L627.0 497.0 L628.4 497.0 L629.7 497.0 L631.1 496.9 L632.4 496.9 L633.7 496.9 L635.0 496.8 L636.3 496.8 L637.6 496.7 L638.8 496.7 L640.0 496.6 L641.2 496.6 L642.4 496.5 L643.6 496.5 L644.7 496.4 L645.9 496.3 L647.0 496.3 L648.1 496.2 L649.2 496.2 L650.3 496.1 L651.4 496.0 L652.4 496.0 L653.5 495.9 L654.5 495.8 L655.5 495.7 L656.5 495.7 L657.5 495.6 L658.5 495.5 L659.5 495.5 L660.4 495.4 L661.4 495.3 L662.3 495.2 L663.2 495.2 L664.2 495.1 L665.1 495.0 L666.0 494.9 L666.8 494.9 L667.7 494.8 L668.6 494.7 L669.4 494.7 L670.3 494.6 L671.1 494.5 L671.9 494.4 L672.7 494.4 L673.5 494.3 L674.3 494.2 L675.1 494.2 L675.9 494.1 L676.7 494.0 L677.4 493.9 L678.2 493.9 L678.9 493.8 L679.7 493.7 L680.4 493.7 L681.1 493.6 L681.9 493.5 L682.6 493.5 L683.3 493.4 L684.3 493.3 L685.3 493.2 L686.4 493.1 L687.3 493.0 L688.3 492.9 L689.3 492.8 L690.2 492.7 L691.2 492.7 L692.1 492.6 L693.0 492.5 L693.9 492.4 L694.8 492.3 L695.7 492.2 L696.5 492.1 L697.4 492.1 L698.2 492.0 L699.1 491.9 L699.9 491.8 L700.7 491.7 L701.5 491.7 L702.3 491.6 L703.0 491.5 L703.8 491.4 L704.6 491.4 L705.3 491.3 L706.0 491.2 L706.8 491.2 L707.5 491.1 L708.2 491.0 L708.9 491.0 L709.8 490.9 L710.7 490.8 L711.6 490.7 L712.5 490.7 L713.3 490.6 L714.2 490.5 L715.0 490.4 L715.8 490.4 L716.6 490.3 L717.4 490.2 L718.2 490.1 L719.0 490.1 L719.7 490.0 L720.5 490.0 L721.2 489.9 L721.9 489.8 L722.6 489.8 L723.3 489.7 L724.2 489.6 L725.0 489.6 L725.9 489.5 L726.7 489.5 L727.5 489.4 L728.3 489.3 L729.0 489.3 L729.8 489.2 L730.5 489.2 L731.2 489.1 L732.0 489.1 L732.7 489.0 L733.5 488.9 L734.3 488.9 L735.1 488.8 L735.8 488.8 L736.6 488.7 L737.3 488.7 L738.1 488.6 L738.8 488.6 L739.6 488.5 L740.4 488.5 L741.1 488.4 L741.9 488.4 L742.6 488.3 L743.3 488.3 L744.1 488.3 L744.9 488.2 L745.6 488.2 L746.4 488.1 L747.1 488.1 L747.9 488.0 L748.6 488.0 L749.4 488.0 L750.1 487.9 L750.8 487.9 L751.6 487.9 L752.3 487.8 L753.0 487.8 L753.8 487.8 L754.5 487.7 L755.2 487.7 L755.9 487.7 L756.7 487.6 L757.4 487.6 L758.1 487.6 L758.8 487.5 L759.5 487.5 L760.3 487.5 L761.0 487.5 L761.7 487.4 L762.4 487.4 L763.1 487.4 L763.8 487.4 L764.5 487.3 L765.2 487.3 L766.0 487.3 L766.7 487.3 L767.4 487.3 L768.1 487.2 L768.8 487.2 L769.5 487.2 L770.2 487.2 L770.9 487.2 L771.6 487.2 L772.3 487.2 L773.0 487.1 L773.5 487.1" fill="none" stroke="#D95319" stroke-width="6.4" stroke-linejoin="round"/><path d="M773.5 656.9 L772.7 656.9 L772.0 656.9 L771.3 656.9 L770.6 657.0 L769.9 657.0 L769.2 657.1 L768.8 657.1" fill="none" stroke="#D95319" stroke-width="6.4" stroke-linejoin="round"/><path d="M761.6 184.9 L760.9 184.9 L760.2 185.0 L759.5 185.0 L758.8 185.0 L758.1 185.0 L757.4 185.0 L756.7 185.1 L756.0 185.1 L755.3 185.1 L754.6 185.1 L753.9 185.2 L753.1 185.2 L752.4 185.2 L751.7 185.3 L751.0 185.3 L750.2 185.3 L749.5 185.4 L748.8 185.4 L748.0 185.4 L747.3 185.5 L746.6 185.5 L745.9 185.6 L745.1 185.6 L744.4 185.6 L743.6 185.7 L742.9 185.7 L742.1 185.8 L741.4 185.8 L740.7 185.9 L740.0 185.9 L739.3 186.0 L738.5 186.0 L737.7 186.1 L737.0 186.1 L736.3 186.2 L735.5 186.2 L734.7 186.3 L734.0 186.3 L733.3 186.4 L732.5 186.4 L731.7 186.5 L730.9 186.6 L730.2 186.6 L729.5 186.7 L728.7 186.8 L728.0 186.8 L727.2 186.9 L726.4 187.0 L725.7 187.0 L725.0 187.1 L724.2 187.2 L723.5 187.2 L722.7 187.3 L722.0 187.4 L721.2 187.5 L720.4 187.6 L719.5 187.6 L718.8 187.7 L718.1 187.8 L717.4 187.9 L716.7 188.0 L715.9 188.0 L715.2 188.1 L714.4 188.2 L713.6 188.3 L712.8 188.4 L712.0 188.5 L711.2 188.6 L710.3 188.7 L709.5 188.8 L708.6 188.9 L707.9 189.0 L707.2 189.1 L706.5 189.2 L705.7 189.3 L705.0 189.4 L704.2 189.5 L703.5 189.6 L702.7 189.7 L701.9 189.8 L701.1 189.9 L700.3 190.0 L699.5 190.1 L698.7 190.2 L697.9 190.4 L697.0 190.5 L696.2 190.6 L695.3 190.7 L694.4 190.9 L693.5 191.0 L692.6 191.2 L691.7 191.3 L691.0 191.4 L690.3 191.5 L689.6 191.6 L688.9 191.8 L688.1 191.9 L687.4 192.0 L686.7 192.1 L685.9 192.2 L685.2 192.4 L684.4 192.5 L683.6 192.6 L682.9 192.8 L682.1 192.9 L681.3 193.0 L680.5 193.2 L679.7 193.3 L678.9 193.5 L678.1 193.6 L677.2 193.8 L676.4 193.9 L675.5 194.1 L674.7 194.3 L673.8 194.4 L672.9 194.6 L672.1 194.8 L671.2 194.9 L670.3 195.1 L669.3 195.3 L668.4 195.5 L667.5 195.7 L666.6 195.9 L665.6 196.1 L664.7 196.3 L663.7 196.5 L662.7 196.7 L661.7 196.9 L660.7 197.1 L659.7 197.3 L658.7 197.6 L657.7 197.8 L657.0 197.9 L656.3 198.1 L655.6 198.3 L654.9 198.4 L654.2 198.6 L653.5 198.7 L652.8 198.9 L652.0 199.1 L651.3 199.3 L650.6 199.4 L649.8 199.6 L649.1 199.8 L648.4 200.0 L647.6 200.1 L646.8 200.3 L646.1 200.5 L645.3 200.7 L644.5 200.9 L643.8 201.1 L643.0 201.3 L642.2 201.5 L641.4 201.7 L640.6 201.9 L639.8 202.1 L639.0 202.3 L638.2 202.5 L637.3 202.8 L636.5 203.0 L635.7 203.2 L634.9 203.4 L634.0 203.6 L633.2 203.9 L632.3 204.1 L631.4 204.3 L630.6 204.6 L629.7 204.8 L628.8 205.1 L627.9 205.3 L627.1 205.6 L626.2 205.8 L625.3 206.1 L624.3 206.4 L623.4 206.6 L622.5 206.9 L621.6 207.2 L620.7 207.4 L619.7 207.7 L618.8 208.0 L617.8 208.3 L616.9 208.6 L615.9 208.9 L614.9 209.2 L613.9 209.5 L613.0 209.8 L612.0 210.1 L611.0 210.4 L610.0 210.7 L608.9 211.1 L607.9 211.4 L606.9 211.7 L605.9 212.1 L604.8 212.4 L603.8 212.7 L602.7 213.1 L601.7 213.5 L600.6 213.8 L599.5 214.2 L598.4 214.6 L597.3 214.9 L596.2 215.3 L595.1 215.7 L594.0 216.1 L592.9 216.5 L591.8 216.9 L590.6 217.3 L589.5 217.7 L588.3 218.1 L587.2 218.5 L586.0 219.0 L584.8 219.4 L583.6 219.8 L582.4 220.3 L581.2 220.7 L580.0 221.2 L578.8 221.7 L577.6 222.1 L576.4 222.6 L575.1 223.1 L573.9 223.6 L572.6 224.1 L571.3 224.6 L570.0 225.1 L568.8 225.6 L567.5 226.2 L566.8 226.4 L566.1 226.7 L565.5 227.0 L564.8 227.2 L564.2 227.5 L563.5 227.8 L562.8 228.1 L562.2 228.3 L561.5 228.6 L560.8 228.9 L560.2 229.2 L559.5 229.5 L558.8 229.8 L558.1 230.1 L557.4 230.4 L556.7 230.6 L556.0 230.9 L555.4 231.2 L554.7 231.5 L554.0 231.8 L553.3 232.2 L552.6 232.5 L551.9 232.8 L551.1 233.1 L550.4 233.4 L549.7 233.7 L549.0 234.0 L548.3 234.4 L547.6 234.7 L546.8 235.0 L546.1 235.3 L545.4 235.7 L544.7 236.0 L543.9 236.3 L543.2 236.7 L542.5 237.0 L541.7 237.3 L541.0 237.7 L540.2 238.0 L539.5 238.4 L538.7 238.7 L538.0 239.1 L537.2 239.4 L536.5 239.8 L535.7 240.2 L534.9 240.5 L534.2 240.9 L533.4 241.3 L532.6 241.6 L531.8 242.0 L531.1 242.4 L530.3 242.8 L529.5 243.2 L528.7 243.5 L527.9 243.9 L527.1 244.3 L526.3 244.7 L525.5 245.1 L524.7 245.5 L523.9 245.9 L523.1 246.3 L522.3 246.7 L521.5 247.1 L520.7 247.6 L519.8 248.0 L519.0 248.4 L518.2 248.8 L517.4 249.2 L516.5 249.7 L515.7 250.1 L514.8 250.5 L514.0 251.0 L513.2 251.4 L512.3 251.9 L511.5 252.3 L510.6 252.8 L509.7 253.2 L508.9 253.7 L508.0 254.1 L507.1 254.6 L506.3 255.1 L505.4 255.6 L504.5 256.0 L503.6 256.5 L502.8 257.0 L501.9 257.5 L501.0 258.0 L500.1 258.5 L499.2 259.0 L498.3 259.5 L497.4 260.0 L496.5 260.5 L495.6 261.0 L494.6 261.5 L493.7 262.0 L492.8 262.5 L491.9 263.1 L490.9 263.6 L490.0 264.1 L489.1 264.7 L488.1 265.2 L487.2 265.8 L486.2 266.3 L485.3 266.9 L484.3 267.4 L483.4 268.0 L482.4 268.6 L481.5 269.2 L480.5 269.7 L479.5 270.3 L478.5 270.9 L477.5 271.5 L476.6 272.1 L475.6 272.7 L474.6 273.3 L473.6 273.9 L472.6 274.5 L471.6 275.1 L470.6 275.8 L469.5 276.4 L468.5 277.0 L467.5 277.7 L466.5 278.3 L465.5 278.9 L464.4 279.6 L463.4 280.3 L462.3 280.9 L461.3 281.6 L460.2 282.3 L459.2 282.9 L458.1 283.6 L457.1 284.3 L456.0 285.0 L454.9 285.7 L453.8 286.4 L452.7 287.1 L451.7 287.9 L450.6 288.6 L449.5 289.3 L448.4 290.0 L447.3 290.8 L446.2 291.5 L445.0 292.3 L443.9 293.0 L442.8 293.8 L441.7 294.6 L440.5 295.4 L439.4 296.1 L438.2 296.9 L437.1 297.7 L435.9 298.5 L434.8 299.3 L433.6 300.2 L432.4 301.0 L431.3 301.8 L430.1 302.6 L428.9 303.5 L427.7 304.3 L426.5 305.2 L425.3 306.1 L424.1 306.9 L422.9 307.8 L421.7 308.7 L420.4 309.6 L419.2 310.5 L418.0 311.4 L416.7 312.3 L415.5 313.2 L414.2 314.2 L413.0 315.1 L411.7 316.0 L410.4 317.0 L409.1 318.0 L407.8 318.9 L406.6 319.9 L405.3 320.9 L404.0 321.9 L402.6 322.9 L401.3 323.9 L400.0 324.9 L398.7 326.0 L397.3 327.0 L396.0 328.1 L394.6 329.1 L393.3 330.2 L391.9 331.3 L390.5 332.4 L389.2 333.5 L387.8 334.6 L386.4 335.7 L385.0 336.8 L383.6 337.9 L382.1 339.1 L380.7 340.2 L379.3 341.4 L377.8 342.6 L376.4 343.8 L374.9 345.0 L373.5 346.2 L372.0 347.4 L370.5 348.6 L369.0 349.9 L367.5 351.1 L366.0 352.4 L364.5 353.7 L363.0 355.0 L361.4 356.3 L359.9 357.6 L358.3 358.9 L356.8 360.2 L355.2 361.6 L353.6 362.9 L352.0 364.3 L350.4 365.7 L348.8 367.1 L347.1 368.5 L345.5 369.9 L343.9 371.4 L342.2 372.8 L340.5 374.3 L338.8 375.8 L337.1 377.3 L335.4 378.8 L333.7 380.3 L332.0 381.9 L330.2 383.4 L328.5 385.0 L326.7 386.6 L324.9 388.2 L323.1 389.8 L321.3 391.4 L319.5 393.1 L317.6 394.8 L315.7 396.4 L313.9 398.1 L312.0 399.9 L310.1 401.6 L308.1 403.3 L306.2 405.1 L304.2 406.9 L302.3 408.7 L300.3 410.5 L298.3 412.4 L296.2 414.2 L294.2 416.1 L292.1 418.0 L290.0 419.9 L287.9 421.9 L285.8 423.8 L283.6 425.8 L281.4 427.8 L279.2 429.8 L277.0 431.8 L274.7 433.9 L272.5 436.0 L270.2 438.0 L267.8 440.2 L265.5 442.3 L263.1 444.5 L260.7 446.6 L258.2 448.8 L255.7 451.0 L253.2 453.3 L250.7 455.5 L248.1 457.8 L245.5 460.1 L242.8 462.4 L240.2 464.8 L237.4 467.1 L234.7 469.5 L231.9 471.9 L229.0 474.3 L226.1 476.8 L223.2 479.2 L220.2 481.7 L217.2 484.2 L214.1 486.7 L211.0 489.2 L207.8 491.7 L204.6 494.2 L201.3 496.8 L198.0 499.3 L194.6 501.9 L191.2 504.5 L187.7 507.0 L184.1 509.6 L180.5 512.2 L176.8 514.8 L173.1 517.3 L169.3 519.9 L165.4 522.4 L161.5 525.0 L157.5 527.5 L153.4 530.0 L149.3 532.5 L145.2 535.0 L143.7 535.9" fill="none" stroke="#D95319" stroke-width="6.4" stroke-linejoin="round"/><path d="M773.5 656.9 L772.7 656.9 L772.0 656.9 L771.3 656.9 L770.6 656.8 L769.9 656.8 L769.2 656.7 L768.5 656.7 L767.8 656.6 L767.1 656.5 L766.4 656.4 L765.7 656.3 L765.0 656.2 L764.3 656.1 L763.6 656.0 L762.9 655.9 L762.1 655.7 L761.5 655.5 L760.8 655.4 L760.1 655.2 L759.4 655.0 L758.7 654.8 L758.0 654.6 L757.3 654.4 L756.6 654.2 L755.9 653.9 L755.2 653.7 L754.6 653.4 L753.9 653.1 L753.2 652.9 L752.6 652.6 L751.9 652.2 L751.2 651.9 L750.6 651.6 L749.9 651.2 L749.2 650.9 L748.6 650.5 L747.9 650.1 L747.3 649.7 L746.6 649.3 L746.0 648.9 L745.4 648.4 L744.8 648.0 L744.2 647.5 L743.6 647.0 L743.1 646.5 L742.5 646.1 L742.0 645.6 L741.4 645.0 L740.9 644.5 L740.4 643.9 L739.8 643.3 L739.3 642.7 L738.8 642.1 L738.4 641.5 L738.0 641.0 L737.6 640.3 L737.1 639.7 L736.7 639.1 L736.4 638.4 L736.0 637.7 L735.6 637.0 L735.3 636.2 L734.9 635.5 L734.6 634.7 L734.4 633.9 L734.1 633.1 L733.9 632.3 L733.6 631.4 L733.5 630.6 L733.3 629.7 L733.2 629.0 L733.1 628.3 L733.0 627.6 L733.0 626.9 L733.0 626.2 L733.0 625.5 L733.0 624.8 L733.0 624.1 L733.1 623.3 L733.1 622.4 L733.3 621.5 L733.4 620.7 L733.6 619.9 L733.8 619.0 L734.0 618.2 L734.2 617.4 L734.5 616.6 L734.7 615.9 L735.0 615.1 L735.3 614.4 L735.7 613.7 L736.0 613.0 L736.3 612.3 L736.7 611.7 L737.1 611.1 L737.4 610.4 L737.8 609.8 L738.3 609.1 L738.8 608.5 L739.3 607.8 L739.7 607.2 L740.2 606.6 L740.7 606.0 L741.2 605.5 L741.7 605.0 L742.2 604.4 L742.8 603.9 L743.4 603.3 L744.0 602.8 L744.5 602.3 L745.1 601.9 L745.7 601.4 L746.2 601.0 L746.8 600.5 L747.4 600.1 L748.1 599.7 L748.7 599.3 L749.3 598.8 L750.0 598.4 L750.6 598.1 L751.2 597.7 L751.9 597.4 L752.5 597.0 L753.2 596.7 L753.9 596.4 L754.5 596.1 L755.2 595.8 L755.9 595.5 L756.5 595.3 L757.2 595.0 L757.9 594.8 L758.5 594.5 L759.2 594.3 L759.9 594.1 L760.6 593.9 L761.3 593.7 L762.0 593.5 L762.7 593.3 L763.4 593.2 L764.1 593.0 L764.8 592.9 L765.5 592.8 L766.2 592.7 L766.9 592.5 L767.6 592.4 L768.3 592.4 L769.0 592.3 L769.7 592.2 L770.4 592.2 L771.1 592.1 L771.8 592.1 L772.5 592.1 L773.2 592.1 L773.5 592.1" fill="none" stroke="#D95319" stroke-width="6.4" stroke-linejoin="round"/><path d="M486.3 214.6 Q494.9 195.9 501.4 175.2 L508.8 188.7 L522.1 195.5 Q503.1 204.0 486.3 214.6 Z" fill="#D95319" stroke="#D95319" stroke-width="6.4" stroke-linejoin="round"/><path d="M539.5 238.4 Q555.2 225.4 569.8 209.6 L571.0 224.9 L580.4 236.6 Q559.4 236.1 539.5 238.4 Z" fill="#D95319" stroke="#D95319" stroke-width="6.4" stroke-linejoin="round"/><path d="M285.8 423.8 Q296.9 405.9 306.0 385.7 L312.4 399.5 L325.5 407.2 Q304.6 414.4 285.8 423.8 Z" fill="#D95319" stroke="#D95319" stroke-width="6.4" stroke-linejoin="round"/><path d="M611.9 497.0 Q591.8 501.0 571.2 508.0 L577.9 494.1 L575.6 479.4 Q593.5 489.6 611.9 497.0 Z" fill="#D95319" stroke="#D95319" stroke-width="6.4" stroke-linejoin="round"/></g>
<circle cx="773.5" cy="487.1" r="13.8" fill="#fff" stroke="#D95319" stroke-width="6.5"/><circle cx="773.5" cy="592.1" r="13.8" fill="#fff" stroke="#D95319" stroke-width="6.5"/><path d="M763.6 647.0 L783.4 666.8 M763.6 666.8 L783.4 647.0" stroke="#D95319" stroke-width="6.4" fill="none"/><path d="M749.1 70.1 L768.9 89.9 M749.1 89.9 L768.9 70.1" stroke="#D95319" stroke-width="6.4" fill="none"/><path d="M751.7 175.0 L771.5 194.8 M751.7 194.8 L771.5 175.0" stroke="#D95319" stroke-width="6.4" fill="none"/>
<text x="101.61" y="668.4" font-size="46.2" textLength="24.41" lengthAdjust="spacingAndGlyphs">0</text>
<text x="66.55" y="563.5" font-size="46.2" textLength="60.21" lengthAdjust="spacingAndGlyphs">0.2</text>
<text x="66.60" y="458.6" font-size="46.2" textLength="58.79" lengthAdjust="spacingAndGlyphs">0.4</text>
<text x="66.44" y="353.6" font-size="46.2" textLength="59.40" lengthAdjust="spacingAndGlyphs">0.6</text>
<text x="66.52" y="248.7" font-size="46.2" textLength="59.93" lengthAdjust="spacingAndGlyphs">0.8</text>
<text x="101.98" y="143.8" font-size="46.2" textLength="23.08" lengthAdjust="spacingAndGlyphs">1</text>
<text x="65.61" y="38.9" font-size="46.2" textLength="61.19" lengthAdjust="spacingAndGlyphs">1.2</text>
<text x="228.33" y="714.5" font-size="46.2" textLength="39.90" lengthAdjust="spacingAndGlyphs">-1</text>
<text x="472.45" y="714.5" font-size="46.2" textLength="75.62" lengthAdjust="spacingAndGlyphs">-0.5</text>
<text x="761.73" y="714.5" font-size="46.2" textLength="25.36" lengthAdjust="spacingAndGlyphs">0</text>
<text y="776.4" font-size="49"><tspan x="365.67" textLength="98.30" lengthAdjust="spacingAndGlyphs">Real</tspan> <tspan x="481.12" textLength="94.80" lengthAdjust="spacingAndGlyphs">Part</tspan></text>
<text transform="translate(34.7 330.2) rotate(-90)" y="0" font-size="49"><tspan x="-169.51" textLength="226.64" lengthAdjust="spacingAndGlyphs">Imaginary</tspan> <tspan x="73.35" textLength="94.71" lengthAdjust="spacingAndGlyphs">Part</tspan></text>
<rect x="180.9" y="37.1" width="242.1" height="95.8" fill="#fff" stroke="#000" stroke-width="2"/>
<path d="M196.2 52.8 L216.0 72.6 M196.2 72.6 L216.0 52.8" stroke="#0072BD" stroke-width="6.4" fill="none"/>
<path d="M196.2 98.0 L216.0 117.8 M196.2 117.8 L216.0 98.0" stroke="#D95319" stroke-width="6.4" fill="none"/>
<text><tspan font-size="39.5" y="72.0" x="230" textLength="61" lengthAdjust="spacingAndGlyphs">IFF</tspan> <tspan font-size="56" y="82.2" x="301.7" stroke="#fff" stroke-width="1.5">+</tspan> <tspan font-size="39.5" y="72" x="343.8" textLength="71" lengthAdjust="spacingAndGlyphs">LFP</tspan></text>
<text><tspan font-size="39.5" y="116.0" x="230" textLength="61" lengthAdjust="spacingAndGlyphs">IFF</tspan> <tspan font-size="56" y="126.2" x="301.7" stroke="#fff" stroke-width="1.5">+</tspan> <tspan font-size="35" y="116" x="344.8" font-style="italic" textLength="20" lengthAdjust="spacingAndGlyphs">k</tspan><tspan font-size="25.5" y="121.6" x="364.6" font-style="italic">p</tspan></text>
</svg></body></html>
